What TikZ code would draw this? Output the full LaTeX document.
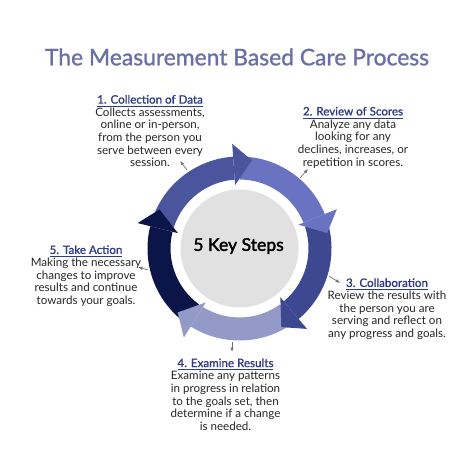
\documentclass[tikz,border=0pt]{standalone}
\usepackage{xcolor}
\usepackage{fontspec}
\setmainfont{Lato}
\newfontfamily\semib{Lato}[FakeBold=1.2]
\newfontfamily\keyfont{Lato}[FakeBold=2]
\usepackage{tikz}
\usetikzlibrary{calc, arrows.meta}

\definecolor{titleblue}{HTML}{6A70A6}
\definecolor{headblue}{HTML}{2E3A87}
\definecolor{keygray}{HTML}{E1E1E1}
\definecolor{segA}{HTML}{4B559D}
\definecolor{segB}{HTML}{6973C2}
\definecolor{segC}{HTML}{3E4891}
\definecolor{segD}{HTML}{939AC8}
\definecolor{segE}{HTML}{0C1547}

\newcommand{\steptitle}[1]{{\semib\color{headblue}\underline{#1}}}

\begin{document}
\begin{tikzpicture}[
	txt/.style={align=center, text=black!85, font=\fontsize{6.6}{7.2}\selectfont},
	leader/.style={black!55, line width=0.4pt, -{Latex[length=2.5pt,width=2pt]}}
	]
	\useasboundingbox (0,0) rectangle (9.48,9.48);
	
	\node (title) at (4.74,8.34) [text=titleblue, font=\fontsize{13}{16}\selectfont\semib] {The Measurement Based Care Process};
	
	% ring of five arrows
	\begin{scope}[shift={(4.79,4.51)}]
		\fill[keygray] (0,0) circle (1.18);
		\foreach \t/\c in {82/segA, 10/segB, -62/segC, -134/segD, -206/segE} {
			\fill[\c] ({\t+80}:1.38) arc[start angle=\t+80, end angle=\t+12, radius=1.38]
				-- ({\t+12}:1.84) arc[start angle=\t+12, end angle=\t+80, radius=1.84] -- cycle;
		}
		%heads go on top of the next tail
		\foreach \t/\c in {82/segA, 10/segB, -62/segC, -134/segD, -206/segE} {
			\fill[\c] ({\t+12}:1.27) -- ({\t+12}:2.10) -- (\t:1.78) -- cycle;
		}
		\node (keys) at (-0.02,0.05) [font=\fontsize{10}{12}\selectfont\keyfont] {5 Key Steps};
	\end{scope}
	
	% step texts
	\node (t1) at (3.00,6.86) [txt] {\steptitle{1. Collection of Data}\\Collects assessments,\\online or in-person,\\from the person you\\serve between every\\session.};
	\node (t2) at (7.06,6.73) [txt] {\steptitle{2. Review of Scores}\\Analyze any data\\looking for any\\declines, increases, or\\repetition in scores.};
	\node (t3) at (7.74,3.30) [txt] {\steptitle{3. Collaboration}\\Review the results with\\the person you are\\serving and reflect on\\any progress and goals.};
	\node (t4) at (4.51,1.59) [txt] {\steptitle{4. Examine Results}\\Examine any patterns\\in progress in relation\\to the goals set, then\\determine if a change\\is needed.};
	\node (t5) at (1.72,3.96) [txt] {\steptitle{5. Take Action}\\Making the necessary\\changes to improve\\results and continue\\towards your goals.};
	
	% leaders from ring to texts
	\coordinate (r1) at (3.74,6.08); \coordinate (e1) at (3.60,6.26);
	\coordinate (r2) at (6.00,5.92); \coordinate (e2) at (6.16,6.10);
	\coordinate (r3) at (6.58,3.96); \coordinate (e3) at (6.80,3.82);
	\coordinate (r4) at (4.64,2.64); \coordinate (e4) at (4.64,2.44);
	\coordinate (r5) at (2.96,4.08); \coordinate (e5) at (2.76,4.14);
	\foreach \i in {1,...,5} {
		\draw[leader] (r\i) -- (e\i);
	}
\end{tikzpicture}
\end{document}
